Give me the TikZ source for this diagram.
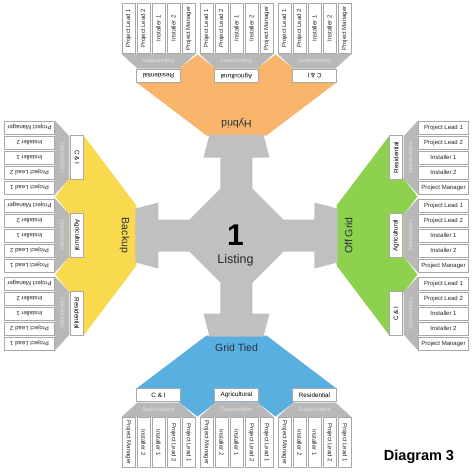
\documentclass[tikz,border=0pt]{standalone}
\usepackage{fontspec}
\setmainfont{Liberation Sans}
\usetikzlibrary{positioning,calc}

\definecolor{hybridorange}{HTML}{F9B56B}
\definecolor{backupyellow}{HTML}{F9D94E}
\definecolor{offgridgreen}{HTML}{8DD14F}
\definecolor{gridtiedblue}{HTML}{5AAFE1}
\definecolor{hubgray}{HTML}{C0C0C0}
\definecolor{bandgray}{HTML}{B8B8B8}
\definecolor{bandtext}{HTML}{E2E2E2}
\definecolor{boxgray}{HTML}{A8A8A8}
\definecolor{labeldark}{HTML}{26303A}

\begin{document}
\begin{tikzpicture}[
    x=1pt, y=1pt,
    hub/.style={fill=hubgray},
    category/.style={rectangle, draw=boxgray, fill=white, line width=0.5pt, minimum width=44pt, minimum height=13pt, inner sep=0pt, font=\fontsize{6.3}{7}\selectfont},
    band/.style={fill=bandgray},
    bandlabel/.style={text=bandtext, inner sep=0pt, font=\fontsize{5.5}{6}\selectfont},
    member/.style={rectangle, draw=boxgray, fill=white, line width=0.5pt, minimum width=50pt, minimum height=13pt, inner sep=0pt, rotate=-90, text=black!85, font=\fontsize{6}{7}\selectfont},
    branchlabel/.style={inner sep=0pt, text=labeldark, font=\fontsize{10.5}{12}\selectfont}
]
\useasboundingbox (-236.5,-236.5) rectangle (237.5,235.5);

% ============ BRANCHES ============
\foreach \ang/\wingcolor/\wingname/\wingid in {0/gridtiedblue/Grid Tied/grid-tied, 90/offgridgreen/Off Grid/off-grid, 180/hybridorange/Hybrid/hybrid, 270/backupyellow/Backup/backup} {
\begin{scope}[rotate=\ang, transform shape]
\fill[\wingcolor] (-30,-100) -- (30,-100) -- (100,-153) -- (57,-167) -- (39,-181) -- (21,-167)
    -- (-21,-167) -- (-39,-181) -- (-57,-167) -- (-100,-153) -- cycle;
\node[branchlabel] (\wingid) at (0,-112) {\wingname};

\foreach \gx/\catname/\catid in {-78/C \& I/ci, 0/Agricultural/agri, 78/Residential/resi} {
    % Stakeholders
    \fill[band] (\gx-21,-167) -- (\gx+21,-167) -- (\gx+37,-181.5) -- (\gx-37,-181.5) -- cycle;
    \node[bandlabel] (\wingid-\catid-stake) at (\gx,-174) {Stakeholders};
    \node[category] (\wingid-\catid) at (\gx,-159.5) {\catname};
    \foreach \dx/\who/\whoid in {-30/Project Manager/pm, -15/Installer 2/in2, 0/Installer 1/in1, 15/Project Lead 2/pl2, 30/Project Lead 1/pl1}
        \node[member] (\wingid-\catid-\whoid) at (\gx+\dx,-207) {\who};
}
\end{scope}
}

% ============ CENTRE ============
\fill[hub] (-16,-47) -- (-16,-78) -- (-33,-78) -- (-27,-101) -- (27,-101) -- (33,-78) -- (16,-78) -- (16,-47)
    -- (47,-16) -- (78,-16) -- (78,-33) -- (101,-27) -- (101,27) -- (78,33) -- (78,16) -- (47,16)
    -- (16,47) -- (16,78) -- (33,78) -- (27,101) -- (-27,101) -- (-33,78) -- (-16,78) -- (-16,47)
    -- (-47,16) -- (-78,16) -- (-78,33) -- (-101,27) -- (-101,-27) -- (-78,-33) -- (-78,-16) -- (-47,-16) -- cycle;
\node[inner sep=0pt, font=\bfseries\fontsize{30}{30}\selectfont] (hub-number) at (-1,0.5) {1};
\node[inner sep=0pt, text=black!85, font=\fontsize{12.5}{14}\selectfont] (hub-label) at (-1,-25) {Listing};

% ============ TITRE ============
\node[inner sep=0pt, font=\bfseries\fontsize{14.5}{16}\selectfont] (diagram-title) at (182.5,-221.5) {Diagram 3};

\end{tikzpicture}
\end{document}
